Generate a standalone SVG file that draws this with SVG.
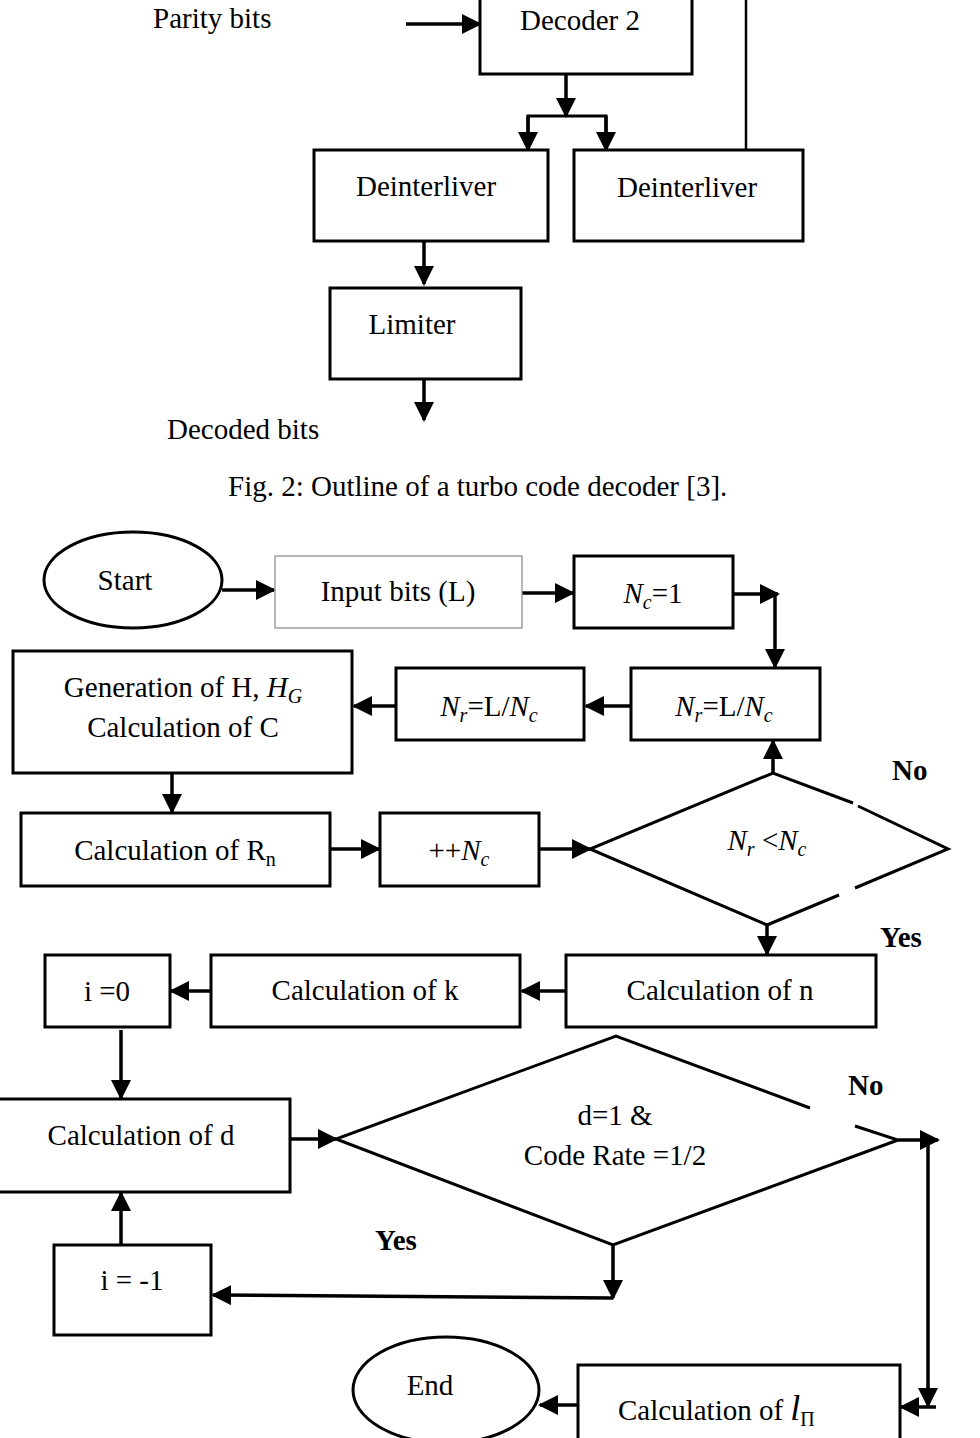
<svg xmlns="http://www.w3.org/2000/svg" width="980" height="1438" viewBox="0 0 980 1438">
<style>
text{font-family:"Liberation Serif","Times New Roman",serif;font-size:29px;fill:#000}
.c{text-anchor:middle}
.b{font-weight:bold}
.i{font-style:italic}
.s{font-size:20px}
.box{fill:#fff;stroke:#000;stroke-width:3}
.thin{fill:#fff;stroke:#888;stroke-width:1.2}
.ln{fill:none;stroke:#000;stroke-width:3.5}
</style>
<defs>
<marker id="a" markerUnits="userSpaceOnUse" markerWidth="22" markerHeight="22" refX="18" refY="10" orient="auto">
<path d="M0,0 L20,10 L0,20 Z" fill="#000"/>
</marker>
</defs>
<rect width="980" height="1438" fill="#fff"/>

<g id="connectors">
<line class="ln" x1="406" y1="24" x2="480" y2="24" marker-end="url(#a)"/>
<line class="ln" x1="746" y1="0" x2="746" y2="152" style="stroke-width:2.5"/>
<line class="ln" x1="566" y1="74" x2="566" y2="116" marker-end="url(#a)"/>
<polyline class="ln" points="528,150 528,116 606,116 606,150" style="stroke-width:3"/>
<line class="ln" x1="528" y1="116" x2="528" y2="150" marker-end="url(#a)"/>
<line class="ln" x1="606" y1="116" x2="606" y2="150" marker-end="url(#a)"/>
<line class="ln" x1="424" y1="241" x2="424" y2="284" marker-end="url(#a)"/>
<line class="ln" x1="424" y1="379" x2="424" y2="420" marker-end="url(#a)"/>

<line class="ln" x1="222" y1="590" x2="274" y2="590" marker-end="url(#a)"/>
<line class="ln" x1="522" y1="593" x2="573" y2="593" marker-end="url(#a)"/>
<line class="ln" x1="733" y1="594" x2="778" y2="594" marker-end="url(#a)"/>
<line class="ln" x1="775" y1="594" x2="775" y2="667" marker-end="url(#a)"/>
<line class="ln" x1="631" y1="706" x2="586" y2="706" marker-end="url(#a)"/>
<line class="ln" x1="396" y1="706" x2="354" y2="706" marker-end="url(#a)"/>
<line class="ln" x1="172" y1="773" x2="172" y2="812" marker-end="url(#a)"/>
<line class="ln" x1="330" y1="849" x2="379" y2="849" marker-end="url(#a)"/>
<line class="ln" x1="539" y1="849" x2="590" y2="849" marker-end="url(#a)"/>
<line class="ln" x1="773" y1="773" x2="773" y2="741" marker-end="url(#a)"/>
<line class="ln" x1="767" y1="925" x2="767" y2="954" marker-end="url(#a)"/>
<line class="ln" x1="566" y1="991" x2="522" y2="991" marker-end="url(#a)"/>
<line class="ln" x1="211" y1="991" x2="171" y2="991" marker-end="url(#a)"/>
<line class="ln" x1="121" y1="1030" x2="121" y2="1098" marker-end="url(#a)"/>
<line class="ln" x1="290" y1="1139" x2="336" y2="1139" marker-end="url(#a)"/>
<line class="ln" x1="898" y1="1140" x2="938" y2="1140" marker-end="url(#a)"/>
<line class="ln" x1="928" y1="1140" x2="928" y2="1406" marker-end="url(#a)"/>
<line class="ln" x1="936" y1="1407" x2="901" y2="1407" marker-end="url(#a)"/>
<line class="ln" x1="613" y1="1245" x2="613" y2="1298" marker-end="url(#a)"/>
<line class="ln" x1="613" y1="1298" x2="213" y2="1295" marker-end="url(#a)"/>
<line class="ln" x1="121" y1="1245" x2="121" y2="1193" marker-end="url(#a)"/>
<line class="ln" x1="578" y1="1405" x2="540" y2="1405" marker-end="url(#a)"/>
</g>

<text x="153" y="28">Parity bits</text>
<g id="decoder2"><rect class="box" x="480" y="-10" width="212" height="84"/><text x="580" y="30" class="c">Decoder 2</text></g>
<g id="deint1"><rect class="box" x="314" y="150" width="234" height="91"/><text x="426" y="196" class="c">Deinterliver</text></g>
<g id="deint2"><rect class="box" x="574" y="150" width="229" height="91"/><text x="687" y="197" class="c">Deinterliver</text></g>
<g id="limiter"><rect class="box" x="330" y="288" width="191" height="91"/><text x="412" y="334" class="c">Limiter</text></g>
<text x="167" y="439">Decoded bits</text>
<text x="228" y="496">Fig. 2: Outline of a turbo code decoder [3].</text>

<g id="start"><ellipse cx="133" cy="580" rx="89" ry="48" fill="#fff" stroke="#000" stroke-width="3"/><text x="125" y="590" class="c">Start</text></g>
<g id="input"><rect class="thin" x="275" y="556" width="247" height="72"/><text x="398" y="601" class="c">Input bits (L)</text></g>
<g id="nc1"><rect class="box" x="574" y="556" width="159" height="72"/><text x="653" y="603" class="c"><tspan class="i">N</tspan><tspan class="i s" dy="6">c</tspan><tspan dy="-6">=1</tspan></text></g>
<g id="nr1"><rect class="box" x="631" y="668" width="189" height="72"/><text x="724" y="716" class="c"><tspan class="i">N</tspan><tspan class="i s" dy="6">r</tspan><tspan dy="-6">=L/</tspan><tspan class="i">N</tspan><tspan class="i s" dy="6">c</tspan></text></g>
<g id="nr2"><rect class="box" x="396" y="668" width="188" height="72"/><text x="489" y="716" class="c"><tspan class="i">N</tspan><tspan class="i s" dy="6">r</tspan><tspan dy="-6">=L/</tspan><tspan class="i">N</tspan><tspan class="i s" dy="6">c</tspan></text></g>
<g id="gen"><rect class="box" x="13" y="651" width="339" height="122"/><text x="183" y="697" class="c">Generation of H, <tspan class="i">H</tspan><tspan class="i s" dy="6">G</tspan></text><text x="183" y="737" class="c">Calculation of C</text></g>
<g id="rn"><rect class="box" x="21" y="813" width="309" height="73"/><text x="175" y="860" class="c">Calculation of R<tspan class="s" dy="6">n</tspan></text></g>
<g id="pnc"><rect class="box" x="380" y="813" width="159" height="73"/><text x="459" y="860" class="c">++<tspan class="i">N</tspan><tspan class="i s" dy="6">c</tspan></text></g>
<g id="dia1"><polyline class="ln" style="stroke-width:3" points="853,803 773,773 590,849 767,925 839,895"/><polyline class="ln" style="stroke-width:3" points="858,806 948,849 855,888"/><text x="767" y="850" class="c"><tspan class="i">N</tspan><tspan class="i s" dy="6">r</tspan><tspan dy="-6"> &lt;</tspan><tspan class="i">N</tspan><tspan class="i s" dy="6">c</tspan></text></g>
<text x="892" y="780" class="b">No</text>
<text x="880" y="947" class="b">Yes</text>
<g id="calcn"><rect class="box" x="566" y="955" width="310" height="72"/><text x="720" y="1000" class="c">Calculation of n</text></g>
<g id="calck"><rect class="box" x="211" y="955" width="309" height="72"/><text x="365" y="1000" class="c">Calculation of k</text></g>
<g id="i0"><rect class="box" x="45" y="955" width="125" height="72"/><text x="107" y="1001" class="c">i =0</text></g>
<g id="calcd"><rect class="box" x="-5" y="1099" width="295" height="93"/><text x="141" y="1145" class="c">Calculation of  d</text></g>
<g id="dia2"><polyline class="ln" style="stroke-width:3" points="810,1108 616,1036 336,1139 613,1245 898,1140 855,1126"/><text x="615" y="1125" class="c">d=1 &amp;</text><text x="615" y="1165" class="c">Code Rate =1/2</text></g>
<text x="848" y="1095" class="b">No</text>
<text x="375" y="1250" class="b">Yes</text>
<g id="im1"><rect class="box" x="54" y="1245" width="157" height="90"/><text x="132" y="1290" class="c">i = -1</text></g>
<g id="end"><ellipse cx="446" cy="1390" rx="93" ry="53" fill="#fff" stroke="#000" stroke-width="3"/><text x="430" y="1395" class="c">End</text></g>
<g id="calcl"><rect class="box" x="578" y="1365" width="322" height="80"/><text x="618" y="1420">Calculation of  <tspan class="i" style="font-size:36px">l</tspan><tspan class="s" dy="6">Π</tspan></text></g>
</svg>
